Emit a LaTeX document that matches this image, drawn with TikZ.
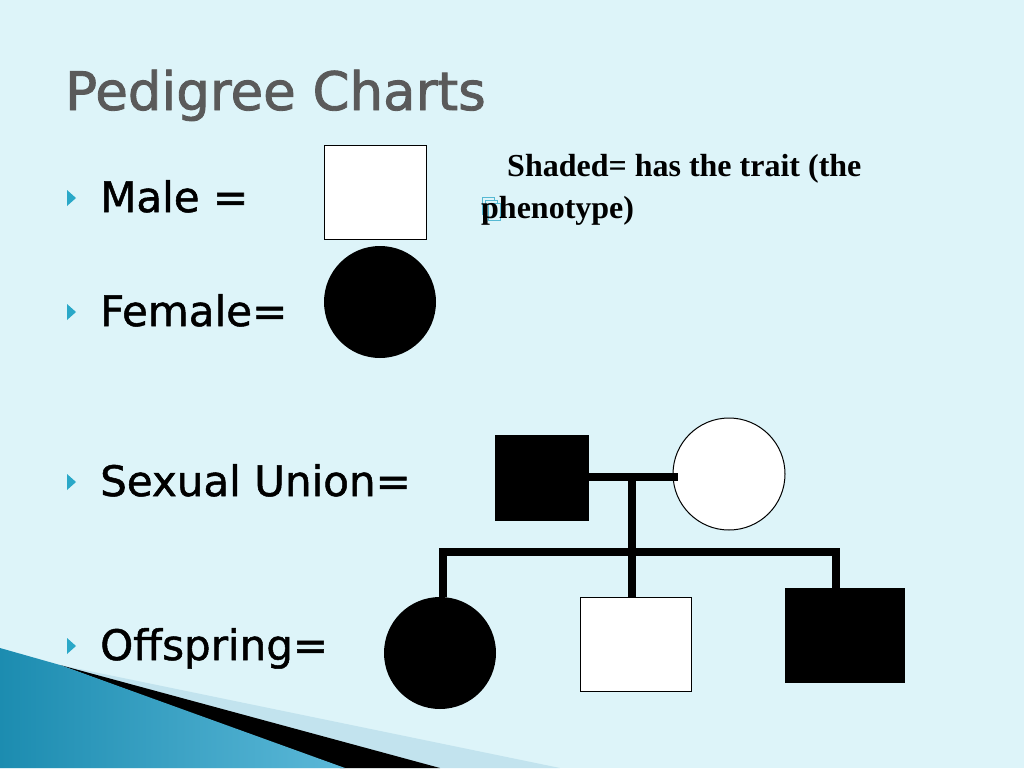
\documentclass[tikz,border=0pt]{standalone}
\usepackage{fontspec}
\setmainfont{Liberation Serif}
\newfontfamily\slidefont[FakeBold=1.2]{DejaVu Sans}
\newfontfamily\titlefont[FakeBold=1.6]{DejaVu Sans}
\definecolor{bg}{HTML}{DDF4F9}
\definecolor{wedge}{HTML}{1C8CB0}
\definecolor{wedgeL}{HTML}{5BB8D8}
\definecolor{pale}{HTML}{C2E3EE}
\definecolor{bul}{HTML}{2AA8C8}
\definecolor{titlec}{HTML}{5A5A5A}
\begin{document}
\begin{tikzpicture}[x=1pt,y=-1pt,
  male/.style={draw=black,line width=1pt},
  thick line/.style={line width=8pt},
  lbl/.style={anchor=base west,inner sep=0pt,font=\slidefont\fontsize{42}{44}\selectfont},
  bullet/.style={fill=bul}]
\useasboundingbox (0,0) rectangle (1024,768);
\fill[bg] (0,0) rectangle (1024,768);
% bottom-left decoration
\fill[pale] (60,665) -- (560,768) -- (0,768) -- cycle;
\fill[black] (60,665) -- (440,768) -- (340,768) -- cycle;
\shade[left color=wedge, right color=wedgeL] (0,648) -- (60,665) -- (345,768) -- (0,768) -- cycle;
% title
\node[anchor=base west,inner sep=0pt,text=titlec,font=\titlefont\fontsize{53}{55}\selectfont] (title) at (65,110) {Pedigree Charts};
% bullets
\foreach \yy/\t [count=\i] in {212/Male =,326/Female=,496/Sexual Union=,660/Offspring=}{
  \fill[bul] (67,\yy-22) -- (76,\yy-14) -- (67,\yy-6) -- cycle;
  \node[lbl] (b\i) at (100,\yy) {\t};
}
% icon
\foreach \d in {0,3,6}{
  \filldraw[draw=bul!80,fill=bg,line width=0.6pt] (482+\d,197+\d) rectangle (494+\d,214+\d);
}
\node[anchor=base west,inner sep=0pt,align=left,font=\fontsize{32}{42}\selectfont\bfseries] (shaded) at (481,218) {\hspace{26pt}Shaded= has the trait (the\\phenotype)};
% legend
\node[male,fill=white,minimum width=102pt,minimum height=94pt,inner sep=0pt] (m) at (375,192) {};
\node[circle,fill=black,minimum size=112pt,inner sep=0pt] (f) at (380,302) {};
% union
\node[fill=black,minimum width=94pt,minimum height=86pt,inner sep=0pt] (p1) at (542,478) {};
\node[circle,male,fill=white,minimum size=112pt,inner sep=0pt] (p2) at (729,474) {};
\draw[thick line] (p1.east |- 0,477) -- (678,477) coordinate (uend);
\coordinate (u) at (632,477);
\coordinate (sib) at (632,552);
\draw[thick line] (u) -- (sib);
\draw[thick line] (443,552) -- (836,552);
% offspring
\node[circle,fill=black,minimum size=112pt,inner sep=0pt] (c1) at (440,653) {};
\node[male,fill=white,minimum width=111pt,minimum height=94pt,inner sep=0pt] (c2) at (635.5,644) {};
\node[fill=black,minimum width=120pt,minimum height=95pt,inner sep=0pt] (c3) at (845,635.5) {};
\draw[thick line] (443,548) -- (c1.north -| 443,0);
\draw[thick line] (632,552) -- (c2.north -| 632,0);
\draw[thick line] (836,548) -- (c3.north -| 836,0);
\end{tikzpicture}
\end{document}
